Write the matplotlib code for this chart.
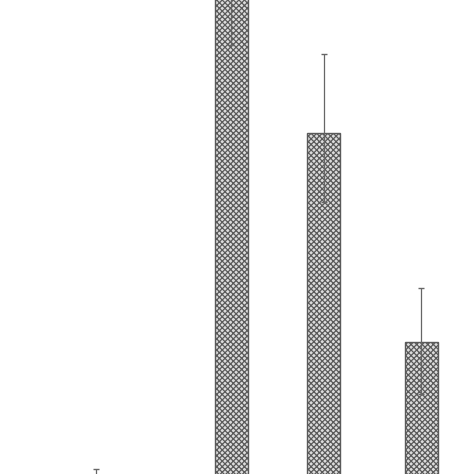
import matplotlib.pyplot as plt
import numpy as np

# bar chart with crosshatched bars and error bars (axes cropped out)

positions = [0.57, 2.0, 2.98, 4.01]
values = [1.5, 53.0, 36.7, 15.8]
err_low = [1.6, 7.5, 6.9, 5.2]
err_high = [1.6, 7.5, 7.9, 5.4]

plt.rcParams['hatch.linewidth'] = 0.9
plt.rcParams['hatch.color'] = '#777777'

fig = plt.figure(figsize=(4.74, 4.74), dpi=100)
ax = fig.add_axes([0, 0, 1, 1])

ax.bar(positions, values, width=0.35, color='#dcdcdc', edgecolor='#5a5a5a',
       linewidth=1.0, hatch='xxxxxx', zorder=1)
ax.errorbar(positions, values, yerr=[err_low, err_high], fmt='none',
            ecolor='#666666', elinewidth=0.9, capsize=2.5, capthick=1.0, zorder=2)

ax.set_xlim(-0.45, 4.57)
ax.set_ylim(2.6, 50)
ax.axis('off')

plt.savefig('out.png', dpi=100)
